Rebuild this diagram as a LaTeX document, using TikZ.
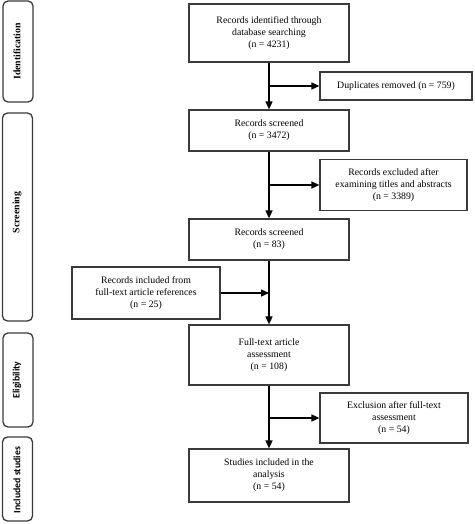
\documentclass[tikz,border=0pt]{standalone}
\usepackage{fontspec}
\setmainfont{Liberation Serif}
\newfontfamily\calib{Carlito}
\usetikzlibrary{arrows.meta}

\definecolor{boxline}{HTML}{3A3A3A}

\tikzset{
  box/.style={draw=boxline, line width=1.2pt, rectangle, align=center,
              font=\fontsize{9.8}{12}\selectfont, inner sep=2pt},
  phase/.style={draw=boxline, line width=1.3pt, rounded corners=5pt,
                minimum width=30pt},
  phasetext/.style={rotate=90, font=\bfseries\fontsize{9.8}{11}\selectfont},
  arr/.style={line width=1.5pt, -{Triangle[length=8pt,width=7pt]}}
}

\begin{document}
\begin{tikzpicture}[x=1pt,y=-1pt]
\useasboundingbox (0,0) rectangle (474,524);

% phase bars on the left
\node[phase, minimum height=101pt] (p1) at (18,51.5) {};
\node[phasetext] (t1) at (17,51.5) {Identification};
\node[phase, minimum height=208pt] (p2) at (17.5,217) {};
\node[phasetext] (t2) at (17,212.5) {Screening};
\node[phase, minimum height=94pt] (p3) at (18,380) {};
\node[phasetext, font=\calib\bfseries\fontsize{9.8}{11}\selectfont] (t3) at (17,380) {Eligibility};
\node[phase, minimum height=84pt] (p4) at (17.5,479) {};
\node[phasetext, font=\calib\bfseries\fontsize{9.8}{11}\selectfont] (t4) at (17,480) {Included studies};

% main column
\node[box, minimum width=160pt, minimum height=58pt] (b1) at (269,33)
  {Records identified through\\database searching\\(n = 4231)};
\node[box, minimum width=160pt, minimum height=41pt] (b2) at (269,130.5)
  {Records screened\\(n = 3472)};
\node[box, minimum width=160pt, minimum height=41pt] (b3) at (269,239.5)
  {Records screened\\(n = 83)};
\node[box, minimum width=160pt, minimum height=60pt] (b4) at (269,355)
  {Full-text article\\assessment\\(n = 108)};
\node[box, minimum width=160pt, minimum height=53pt] (b5) at (269,475.5)
  {Studies included in the\\analysis\\(n = 54)};

% side boxes
\node[box, minimum width=152pt, minimum height=28pt] (dup) at (396,86)
  {Duplicates removed (n = 759)};
\node[box, minimum width=147pt, minimum height=51pt] (excl) at (393.5,185)
  {Records excluded after\\examining titles and abstracts\\(n = 3389)};
\node[box, minimum width=148pt, minimum height=52pt] (inc) at (146,293)
  {Records included from\\full-text article references\\(n = 25)};
\node[box, minimum width=148pt, minimum height=50pt] (exc) at (394,418)
  {Exclusion after full-text\\assessment\\(n = 54)};

% flow connectors
\draw[arr] (b1) -- (b2);
\draw[arr] (b2) -- (b3);
\draw[arr] (b3) -- (b4);
\draw[arr] (b4) -- (b5);
\draw[arr] (b1.south |- dup.west) -- (dup.west);
\draw[arr] (b2.south |- excl.west) -- (excl.west);
\draw[arr] (inc.east) -- (inc.east -| b3.south);
\draw[arr] (b4.south |- exc.west) -- (exc.west);
\end{tikzpicture}
\end{document}
